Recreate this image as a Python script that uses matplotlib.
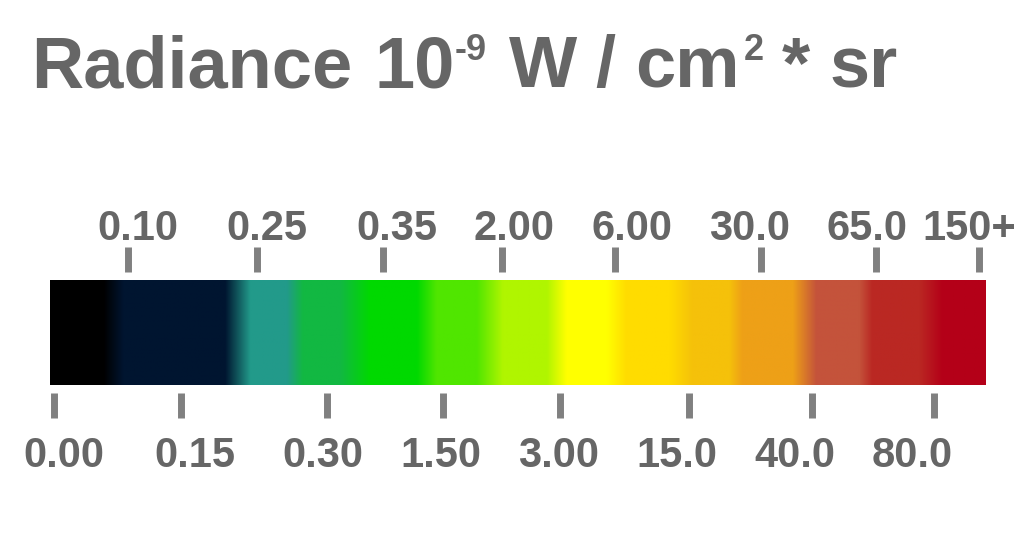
import matplotlib
matplotlib.use('Agg')
import matplotlib.pyplot as plt
import numpy as np
from matplotlib.colors import LinearSegmentedColormap


# Legend values
title_parts = ['Radiance', '10', '-9', 'W', '/', 'cm', '2', '*', 'sr']
title_is_sup = [False, False, True, False, False, False, True, False, False]
top_labels = ['0.10', '0.25', '0.35', '2.00', '6.00', '30.0', '65.0', '150+']
bottom_labels = ['0.00', '0.15', '0.30', '1.50', '3.00', '15.0', '40.0', '80.0']

# Layout: gap (px) before each title piece after the first
title_gaps = [22, 0, 22, 18, 20, 4, 18, 20]

# Where the tick marks and their labels sit along the bar (0 = left, 1 = right)
top_tick_pos = [0.083, 0.221, 0.356, 0.483, 0.604, 0.760, 0.882, 0.993]
top_label_pos = [0.0935, 0.232, 0.371, 0.496, 0.622, 0.747, 0.873, 0.982]
bottom_tick_pos = [0.004, 0.140, 0.296, 0.420, 0.545, 0.683, 0.814, 0.944]
bottom_label_pos = [0.015, 0.155, 0.292, 0.418, 0.543, 0.670, 0.796, 0.921]

# Colour stops of the bar
cmap_stops = [
    (0.000, '#000000'), (0.057, '#000000'),
    (0.078, '#001530'), (0.187, '#001530'),
    (0.214, '#229a8a'), (0.253, '#229a8a'),
    (0.270, '#12b842'), (0.310, '#12b842'),
    (0.342, '#00d900'), (0.392, '#00d900'),
    (0.413, '#50e600'), (0.456, '#50e600'),
    (0.484, '#b0f500'), (0.531, '#b0f500'),
    (0.552, '#ffff00'), (0.595, '#ffff00'),
    (0.616, '#ffdc00'), (0.662, '#ffdc00'),
    (0.687, '#f5c10a'), (0.726, '#f5c10a'),
    (0.740, '#eea017'), (0.794, '#eea017'),
    (0.819, '#c4533b'), (0.865, '#c4533b'),
    (0.879, '#ba2823'), (0.929, '#ba2823'),
    (0.954, '#b40018'), (1.000, '#b40018'),
]

text_color = '#666666'
tick_color = '#808080'

plt.rcParams['font.family'] = ['Liberation Sans', 'DejaVu Sans']
plt.rcParams['font.weight'] = 'bold'

W, H = 1024, 555
cmap = LinearSegmentedColormap.from_list('radiance', cmap_stops, N=1024)

fig = plt.figure(figsize=(W / 100, H / 100), dpi=100)
renderer = fig.canvas.get_renderer()

# Title, piece by piece so superscripts are small and raised
baseline = 87
x = 31
for i, (part, sup) in enumerate(zip(title_parts, title_is_sup)):
    if i > 0:
        x += title_gaps[i - 1]
    fs = 26 if sup else 52
    y = baseline - (27 if sup else 0)
    t = fig.text(x / W, 1 - y / H, part, fontsize=fs, color=text_color,
                 fontweight='bold', va='baseline', ha='left')
    x = t.get_window_extent(renderer).x1

ax = fig.add_axes([50 / W, 170 / H, 936 / W, 105 / H])
gradient = np.linspace(0, 1, 1024)[None, :]
ax.imshow(gradient, aspect='auto', cmap=cmap, extent=[0, 1, 0, 1],
          interpolation='bilinear')
ax.set_xlim(0, 1)
ax.set_ylim(0, 1)
ax.set_yticks([])
for s in ax.spines.values():
    s.set_visible(False)

# bottom ticks + labels
ax.spines['bottom'].set_position(('outward', 8 * 0.72))
ax.set_xticks(bottom_tick_pos)
ax.set_xticklabels([''] * len(bottom_tick_pos))
ax.set_xticks(bottom_label_pos, minor=True)
ax.set_xticklabels(bottom_labels, minor=True)
ax.tick_params(axis='x', which='major', direction='out', length=18, width=5,
               color=tick_color)
ax.tick_params(axis='x', which='minor', length=0, pad=31, labelsize=30,
               labelcolor=text_color)

# top ticks + labels
ax2 = ax.twiny()
ax2.set_xlim(0, 1)
for s in ax2.spines.values():
    s.set_visible(False)
ax2.spines['top'].set_position(('outward', 8 * 0.72))
ax2.set_xticks(top_tick_pos)
ax2.set_xticklabels([''] * len(top_tick_pos))
ax2.set_xticks(top_label_pos, minor=True)
ax2.set_xticklabels(top_labels, minor=True)
ax2.tick_params(axis='x', which='major', direction='out', length=18, width=5,
                color=tick_color)
ax2.tick_params(axis='x', which='minor', length=0, pad=16.5, labelsize=30,
                labelcolor=text_color)

fig.savefig('out.png', dpi=100)
